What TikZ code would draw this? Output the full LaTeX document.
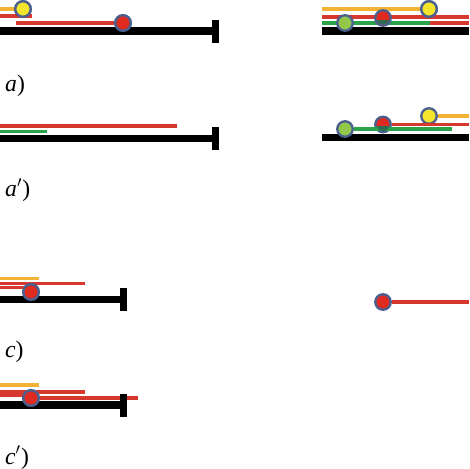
\documentclass[tikz,border=0pt]{standalone}
\usepackage{fontspec}
\setmainfont{Liberation Serif}
\definecolor{lnorange}{HTML}{F3B234}
\definecolor{lnred}{HTML}{D6382E}
\definecolor{lngreen}{HTML}{2BA34B}
\definecolor{dotyellow}{HTML}{F2E52C}
\definecolor{dotgreen}{HTML}{93C74B}
\definecolor{dotred}{HTML}{DF2A1F}
\definecolor{dotrim}{HTML}{4A5F8E}
\definecolor{dotshade}{HTML}{2F6B52}
\begin{document}
\begin{tikzpicture}[x=0.02cm,y=-0.02cm,
  strand/.style={line width=4pt,black},
  endbar/.style={line width=3.8pt,black},
  orng/.style={line width=1.9pt,lnorange},
  rd/.style={line width=1.9pt,lnred},
  grn/.style={line width=1.9pt,lngreen},
  dot/.style={circle,draw=dotrim,line width=1.3pt,minimum size=0.31cm,inner sep=0pt},
  lbl/.style={anchor=base west,font=\fontsize{13.5}{15}\selectfont}]
\useasboundingbox (0,0) rectangle (469,469);
\begin{scope}
\draw[strand] (0,31) -- (215.5,31);
\draw[endbar] (215.5,20) -- (215.5,43);
\draw[rd] (0,16) -- (32,16);
\node[dot,fill=dotyellow] (ya) at (23,9) {};
\node[dot,fill=dotred] (ra) at (123,23) {};
\coordinate (oa) at (0,9);
\coordinate (rs) at (16,23);
\draw[orng] (oa) -- (ya);
\draw[rd] (rs) -- (ra);
\node[dot,fill=dotyellow] at (ya) {};
\node[dot,fill=dotred] at (ra) {};
\node[lbl] (la) at (-1,92) {\textit{a})};
\end{scope}
\begin{scope}
\draw[rd] (0,126) -- (177,126);
\draw[grn] (0,131.5) -- (47,131.5);
\draw[strand] (0,138.5) -- (215.5,138.5);
\draw[endbar] (215.5,127) -- (215.5,150);
\node[lbl] (lap) at (-1,197) {\textit{a}$'$)};
\end{scope}
\begin{scope}
\draw[rd] (322,17) -- (469,17);
\draw[grn] (322,23) -- (430,23);
\draw[rd] (430,23) -- (469,23);
\draw[strand] (322,31) -- (469,31);
\node[dot,fill=dotyellow] (yb) at (429,9) {};
\coordinate (ob) at (322,9);
\draw[orng] (ob) -- (yb);
\node[dot,fill=dotyellow] at (yb) {};
\node[dot,fill=dotgreen] (ga) at (345,23) {};
\node[dot,fill=dotred] (rb) at (383,18) {};
\begin{scope}
\clip (370,21) rectangle (396,30);
\fill[dotshade] (rb) circle (6.5);
\end{scope}
\end{scope}
\begin{scope}
\draw[strand] (322,137.5) -- (469,137.5);
\node[dot,fill=dotgreen] (gb) at (345,129) {};
\node[dot,fill=dotred] (rc) at (383,124.5) {};
\node[dot,fill=dotyellow] (yc) at (429,116) {};
\coordinate (ge) at (452,129);
\coordinate (re) at (469,124.5);
\coordinate (oe) at (469,116);
\draw[grn] (gb) -- (ge);
\draw[rd] (rc) -- (re);
\draw[orng] (yc) -- (oe);
\begin{scope}
\clip (370,127) rectangle (396,136);
\fill[dotshade] (rc) circle (6.5);
\end{scope}
\end{scope}
\begin{scope}
\draw[orng] (0,278.5) -- (39,278.5);
\draw[rd] (0,283.5) -- (85,283.5);
\draw[strand] (0,299.5) -- (123.5,299.5);
\draw[endbar] (123.5,288) -- (123.5,311);
\node[dot,fill=dotred] (rd1) at (31,292) {};
\coordinate (rl1) at (0,287.5);
\draw[rd] (rl1) -- (rl1 -| rd1);
\node[dot,fill=dotred] at (rd1) {};
\node[lbl] (lc) at (-1,357) {\textit{c})};
\end{scope}
\begin{scope}
\draw[orng] (0,385) -- (39,385);
\draw[rd] (0,392) -- (85,392);
\draw[strand] (0,405) -- (123.5,405);
\node[dot,fill=dotred] (rd2) at (31,398) {};
\coordinate (rl2) at (0,395);
\coordinate (rr2) at (138,398);
\draw[rd] (rl2) -- (rl2 -| rd2);
\draw[rd] (rd2) -- (rr2);
\draw[endbar] (123.5,394) -- (123.5,417);
\node[dot,fill=dotred] at (rd2) {};
\node[lbl] (lcp) at (-1,464) {\textit{c}$'$)};
\end{scope}
\begin{scope}
\node[dot,fill=dotred] (rf) at (383,302) {};
\coordinate (rg) at (469,302);
\draw[rd] (rf) -- (rg);
\end{scope}
\end{tikzpicture}
\end{document}
